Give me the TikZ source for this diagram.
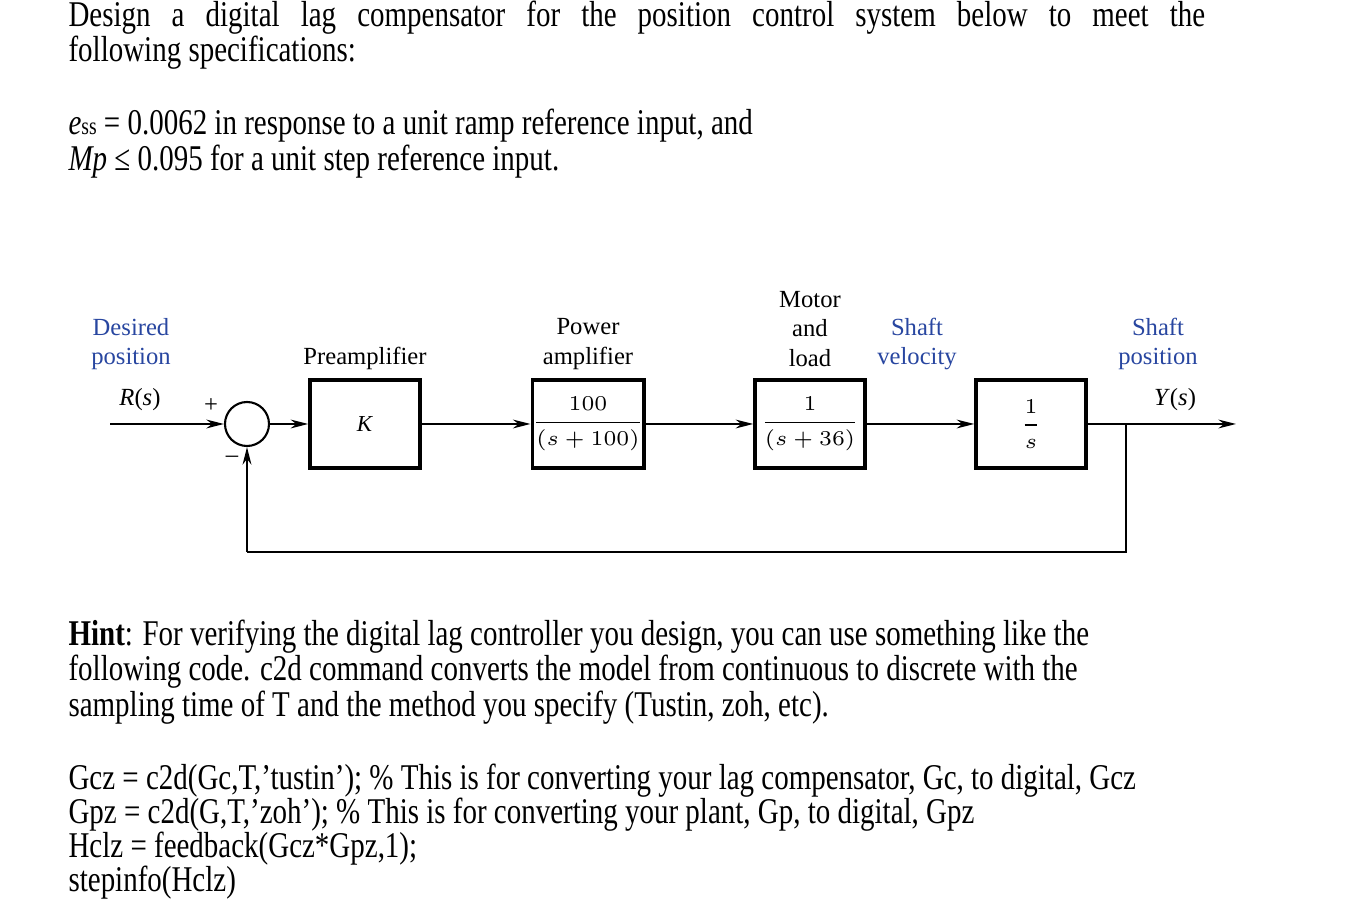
\documentclass[tikz,border=0pt]{standalone}
\usepackage{fontspec}
\setmainfont{Liberation Serif}
\usetikzlibrary{arrows.meta}
\definecolor{lblue}{RGB}{40,70,160}
\begin{document}
\begin{tikzpicture}[x=0.01cm,y=-0.01cm,
  txt/.style={anchor=base west,inner sep=0,font=\fontsize{10.3}{12}\selectfont,xscale=0.8,transform shape},
  lab/.style={align=center,inner sep=0,font=\fontsize{7}{8.3}\selectfont},
  blab/.style={lab,text=lblue},
  blk/.style={draw,line width=1pt,minimum width=110*0.01cm,minimum height=88*0.01cm,inner sep=0,font=\fontsize{6.5}{8}\selectfont},
  sig/.style={line width=0.6pt,-{Stealth[length=5pt,width=2.5pt]}},
  line/.style={line width=0.6pt}]
\useasboundingbox (0,0) rectangle (1346,901);
\node[txt] (t1) at (68,27) {\makebox[404pt][s]{Design a digital lag compensator for the position control system below to meet the}};
\node[txt] (t2) at (68,62) {following specifications:};
\node[txt] (t3) at (68,135) {\textit{e}{\fontsize{7}{8}\selectfont ss} = 0.0062 in response to a unit ramp reference input, and};
\node[txt] (t4) at (68,171) {\textit{Mp} ≤ 0.095 for a unit step reference input.};

\node[blk] (K) at (365,424) {\textit{K}};
\node[blk] (P) at (588,424) {$\displaystyle\frac{100}{(s+100)}$};
\node[blk] (M) at (810,424) {$\displaystyle\frac{1}{(s+36)}$};
\node[blk] (I) at (1031,424) {$\displaystyle\frac{1}{s}$};
\node[circle,draw,line width=0.6pt,minimum size=44*0.01cm,inner sep=0] (S) at (247,424) {};
\coordinate (in) at (110,424);
\coordinate (out) at (1236,424);
\coordinate (br) at (1126,424);
\coordinate (fb1) at (1126,552);
\coordinate (fb2) at (247,552);
\draw[sig] (in) -- (S);
\draw[sig] (S) -- (K);
\draw[sig] (K) -- (P);
\draw[sig] (P) -- (M);
\draw[sig] (M) -- (I);
\draw[sig] (I) -- (out);
\draw[line] (br) -- (fb1) -- (fb2);
\draw[sig] (fb2) -- (S);

\node[blab] (d) at (131,344) {Desired\\position};
\node[lab] (pre) at (365,358) {Preamplifier};
\node[lab] (pa) at (588,344) {Power\\amplifier};
\node[lab] (ml) at (810,329) {Motor\\and\\load};
\node[blab] (sv) at (917,344) {Shaft\\velocity};
\node[blab] (sp) at (1158,344) {Shaft\\position};
\node[lab] (R) at (140,400) {\textit{R}(\textit{s})};
\node[lab] (Y) at (1175,400) {\textit{Y}(\textit{s})};
\node[lab] (plus) at (211,406) {+};
\node[lab] (minus) at (232,459) {\textendash};

\node[txt] (h1) at (68,646) {\textbf{Hint}: For verifying the digital lag controller you design, you can use something like the};
\node[txt] (h2) at (68,681) {following code. c2d command converts the model from continuous to discrete with the};
\node[txt] (h3) at (68,717) {sampling time of T and the method you specify (Tustin, zoh, etc).};
\node[txt] (c1) at (68,789) {Gcz = c2d(Gc,T,'tustin'); \% This is for converting your lag compensator, Gc, to digital, Gcz};
\node[txt] (c2) at (68,823) {Gpz = c2d(G,T,'zoh'); \% This is for converting your plant, Gp, to digital, Gpz};
\node[txt] (c3) at (68,857) {Hclz = feedback(Gcz*Gpz,1);};
\node[txt] (c4) at (68,891) {stepinfo(Hclz)};
\end{tikzpicture}
\end{document}
